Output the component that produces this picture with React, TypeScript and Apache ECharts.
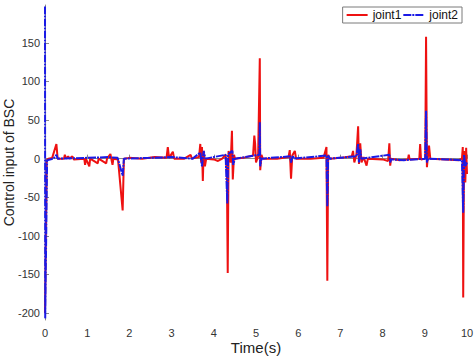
import React, { useEffect, useRef } from "react";
import * as echarts from "echarts";

// joint1 (red) samples: time (s) and control input
const t1 = [
  0, 0.04, 0.08, 0.17, 0.27, 0.3, 0.45, 0.47, 0.5, 0.55, 0.58, 0.65, 0.68, 0.93, 0.95, 0.97,
  1.05, 1.07, 1.25, 1.27, 1.45, 1.47, 1.55, 1.57, 1.6, 1.62, 1.73, 1.84, 1.87, 2.0, 2.3, 2.6,
  2.88, 2.91, 2.94, 3.03, 3.06, 3.3, 3.45, 3.48, 3.65, 3.68, 3.7, 3.72, 3.74, 3.76, 3.79, 3.82,
  4.0, 4.1, 4.2, 4.28, 4.31, 4.33, 4.35, 4.4, 4.43, 4.45, 4.48, 4.5, 4.7, 4.93, 4.96, 4.98,
  5.0, 5.05, 5.09, 5.1, 5.13, 5.16, 5.5, 5.77, 5.8, 5.83, 5.86, 5.92, 5.95, 6.3, 6.6, 6.67,
  6.69, 6.71, 6.75, 7.0, 7.27, 7.3, 7.33, 7.38, 7.42, 7.44, 7.47, 7.5, 7.55, 7.62, 7.65, 8.0,
  8.13, 8.16, 8.18, 8.2, 8.4, 8.6, 8.62, 8.64, 8.87, 8.89, 8.91, 9.01, 9.03, 9.05, 9.1, 9.13,
  9.5, 9.8, 9.88, 9.9, 9.91, 9.93, 9.96, 9.98, 10.0,
];
const joint1 = [
  -200, -2, 0, 1, 19, 0, 0, 5, 0, 3, 0, 3, -1, 0, -8, 0,
  -10, 0, -6, 0, -6, 0, 6, 0, -8, 0, -1, -67, 0, 1, 0, 2,
  1, 15, 1, 9, 0, 0, 5, 0, 2, 19, -5, 15, -29, 10, -10, 0,
  -1, -3, 0, 5, -20, -148, 10, -5, 36, -27, 5, 0, 1, 4, 30, 19,
  -5, 3, 130, -15, 5, 0, 0, 2, 11, -26, 4, 10, 0, 0, 1, 15,
  -158, 5, 0, 1, 3, 10, -5, 5, 42, -7, 20, -5, 2, -9, 0, -1,
  -3, 20, -9, 0, -2, -1, 5, -1, 0, 19, -1, 0, 158, -11, 17, 0,
  -1, -2, 0, 15, -180, 10, -31, 14, -20,
];

// joint2 (blue) samples
const t2 = [
  0, 0.005, 0.05, 0.2, 0.27, 0.3, 1.0, 1.5, 1.72, 1.84, 1.87, 2.5, 3.0, 3.5, 3.68, 3.72,
  3.76, 3.8, 4.28, 4.32, 4.34, 4.44, 4.46, 4.5, 5.08, 5.09, 5.1, 5.13, 5.8, 5.83, 5.87, 5.9,
  6.67, 6.69, 6.71, 6.75, 7.38, 7.42, 7.44, 7.47, 7.5, 8.16, 8.18, 8.2, 8.5, 9.01, 9.03, 9.05,
  9.08, 9.5, 9.88, 9.91, 9.93, 9.96, 10.0,
];
const joint2 = [
  197, -207, -2, 0, 5, 0, 1, 2, 1, -22, 0, 1, 2, 0, 8, -10,
  10, 0, 5, -58, 6, 10, -8, 0, 5, 47, -10, 0, 3, -5, 4, 0,
  4, -62, 4, 0, 3, 19, -5, 12, 0, 5, -5, -1, -2, 0, 62, -5,
  0, -1, -2, -70, 5, -10, -5,
];

const xTicks = [0, 1, 2, 3, 4, 5, 6, 7, 8, 9, 10];
const seriesNames = ["joint1", "joint2"];

const FONT = "'Liberation Sans', Arial, sans-serif";

export default function App() {
  const ref = useRef<HTMLDivElement>(null);
  useEffect(() => {
    if (!ref.current) return;
    const chart = echarts.init(ref.current, null, { renderer: "svg" });
    chart.setOption({
      animation: false,
      backgroundColor: "#ffffff",
      textStyle: { fontFamily: FONT },
      grid: {
        left: 45,
        right: 7,
        top: 5,
        bottom: 44,
        containLabel: false,
        outerBoundsMode: "none",
      },
      legend: {
        data: seriesNames,
        right: 12,
        top: 7,
        orient: "horizontal",
        itemWidth: 21,
        itemHeight: 10,
        itemGap: 1,
        padding: [2, 4, 2, 3],
        borderColor: "#7a7a7a",
        borderWidth: 1,
        backgroundColor: "#ffffff",
        itemStyle: { opacity: 0 },
        textStyle: { fontFamily: FONT, fontSize: 12, color: "#111" },
      },
      xAxis: {
        type: "value",
        min: xTicks[0],
        max: xTicks[xTicks.length - 1],
        interval: 1,
        name: "Time(s)",
        nameLocation: "middle",
        nameGap: 20,
        nameMoveOverlap: false,
        nameTextStyle: { fontFamily: FONT, fontSize: 15, color: "#222" },
        axisLine: { show: true, lineStyle: { color: "#8a8a8a", width: 1 } },
        axisTick: { show: true, inside: true, length: 4, lineStyle: { color: "#8a8a8a" } },
        axisLabel: { fontFamily: FONT, fontSize: 11, color: "#333", margin: 7 },
        splitLine: { show: false },
      },
      yAxis: {
        type: "value",
        min: -209,
        max: 199,
        splitNumber: 8,
        name: "Control input of BSC",
        nameLocation: "middle",
        nameGap: 29,
        nameMoveOverlap: false,
        nameTextStyle: { fontFamily: FONT, fontSize: 14, color: "#222" },
        axisLine: { show: true, lineStyle: { color: "#8a8a8a", width: 1 } },
        axisTick: { show: true, inside: true, length: 4, lineStyle: { color: "#8a8a8a" } },
        axisLabel: {
          fontFamily: FONT,
          fontSize: 11,
          color: "#333",
          margin: 5,
          showMinLabel: false,
          showMaxLabel: false,
          formatter: (v: number) => (Math.abs(v % 50) < 1e-6 ? String(v) : ""),
        },
        splitLine: { show: false },
      },
      series: [
        {
          name: seriesNames[0],
          type: "line",
          symbol: "none",
          data: t1.map((t, i) => [t, joint1[i]]),
          lineStyle: { color: "#ee1111", width: 2 },
          itemStyle: { color: "#ee1111" },
          z: 2,
        },
        {
          name: seriesNames[1],
          type: "line",
          symbol: "none",
          data: t2.map((t, i) => [t, joint2[i]]),
          lineStyle: { color: "#1a1ae6", width: 2, type: [8, 1, 2, 1] },
          itemStyle: { color: "#1a1ae6" },
          z: 3,
        },
      ],
    });
    return () => chart.dispose();
  }, []);
  return (
    <div
      ref={ref}
      style={{ position: "fixed", left: 0, top: 0, width: 474, height: 364, background: "#fff" }}
    />
  );
}
